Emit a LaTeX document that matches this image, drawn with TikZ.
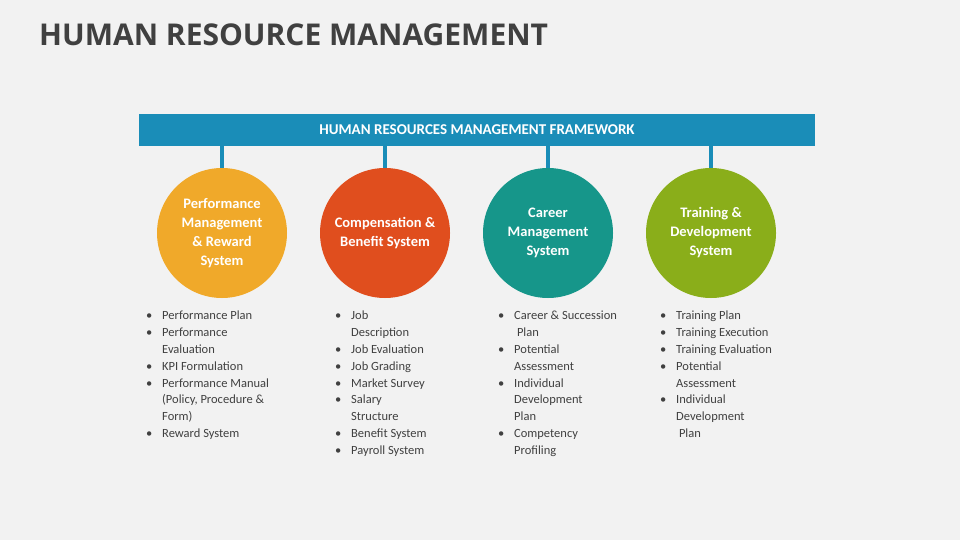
\documentclass[tikz,border=0pt]{standalone}
\usepackage{fontspec}
\setmainfont{Carlito}
\newfontfamily\titlefont{Open Sans}
\definecolor{bg}{HTML}{F2F2F2}
\definecolor{banner}{HTML}{1A8DB8}
\definecolor{cA}{HTML}{F0A92A}
\definecolor{cB}{HTML}{E04E1E}
\definecolor{cC}{HTML}{16968A}
\definecolor{cD}{HTML}{8AAE1A}
\definecolor{txt}{HTML}{404040}
\newcommand{\bi}[1]{\makebox[16pt][l]{\textbullet}#1\\}
\newcommand{\ci}[1]{\hspace*{16pt}#1\\}
\begin{document}
\begin{tikzpicture}[x=1pt,y=-1pt,
  circ/.style={circle,minimum size=130pt,inner sep=0,text=white,font=\fontsize{14.5}{19}\selectfont\bfseries,align=center},
  conn/.style={banner,line width=4pt},
  lst/.style={anchor=north west,inner sep=0,align=left,text=txt,font=\fontsize{12.5}{16.8}\selectfont}]
\fill[bg] (0,0) rectangle (960,540);
\useasboundingbox (0,0) rectangle (960,540);
\node[anchor=west,inner sep=0,text=txt,font=\titlefont\fontsize{30}{34}\selectfont\bfseries] (title) at (39,35) {HUMAN RESOURCE MANAGEMENT};
\node[fill=banner,minimum width=676pt,minimum height=32pt,inner sep=0,text=white,font=\fontsize{15}{18}\selectfont\bfseries] (ban) at (477,130) {HUMAN RESOURCES MANAGEMENT FRAMEWORK};
\node[circ,fill=cA] (c1) at (222,233) {Performance\\Management\\\& Reward\\System};
\node[circ,fill=cB] (c2) at (385,233) {Compensation \&\\Benefit System};
\node[circ,fill=cC] (c3) at (548,233) {Career\\Management\\System};
\node[circ,fill=cD] (c4) at (711,233) {Training \&\\Development\\System};
\foreach \i in {1,2,3,4}{\draw[conn] (c\i.north) -- (c\i.north |- ban.south);}
\node[lst] (l1) at (146,311) {\bi{Performance Plan}\bi{Performance}\ci{Evaluation}\bi{KPI Formulation}\bi{Performance Manual}\ci{(Policy, Procedure \&}\ci{Form)}\bi{Reward System}};
\node[lst] (l2) at (335,311) {\bi{Job}\ci{Description}\bi{Job Evaluation}\bi{Job Grading}\bi{Market Survey}\bi{Salary}\ci{Structure}\bi{Benefit System}\bi{Payroll System}};
\node[lst] (l3) at (498,311) {\bi{Career \& Succession}\ci{ Plan}\bi{Potential}\ci{Assessment}\bi{Individual}\ci{Development}\ci{Plan}\bi{Competency}\ci{Profiling}};
\node[lst] (l4) at (660,311) {\bi{Training Plan}\bi{Training Execution}\bi{Training Evaluation}\bi{Potential}\ci{Assessment}\bi{Individual}\ci{Development}\ci{ Plan}};
\end{tikzpicture}
\end{document}
